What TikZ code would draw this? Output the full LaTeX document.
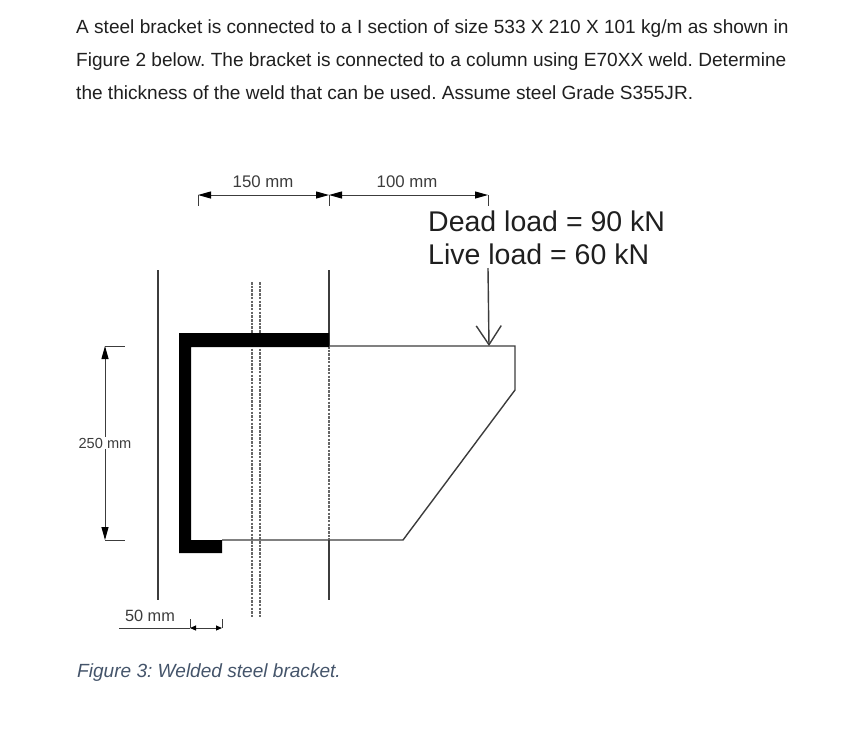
\documentclass[tikz,border=0pt]{standalone}
\usepackage{fontspec}
\setmainfont{Liberation Sans}
\usetikzlibrary{arrows.meta,positioning}
\definecolor{captionblue}{HTML}{44546A}
\definecolor{inkgray}{HTML}{3C3C3C}
\frenchspacing

\begin{document}
\begin{tikzpicture}[
    x=1pt,y=-1pt,
    bodytext/.style={
        anchor=base west,
        inner sep=0pt,
        text=black!88,
        font=\fontsize{19.07}{21}\selectfont},
    dimtext/.style={
        inner sep=0pt,
        text=inkgray,
        font=\fontsize{16.8}{18}\selectfont},
    loadtext/.style={
        anchor=base west,
        inner sep=0pt,
        text=black!88,
        font=\fontsize{28.5}{30}\selectfont},
    myline/.style={draw=inkgray,line width=1.4pt},
    dimline/.style={draw=inkgray,line width=1pt},
    mydim/.style={dimline,{Stealth[length=13pt,width=7pt,inset=0pt,black]}-{Stealth[length=13pt,width=7pt,inset=0pt,black]}},
    smalldim/.style={dimline,{Stealth[length=6pt,width=5pt,inset=0pt,black]}-{Stealth[length=6pt,width=5pt,inset=0pt,black]}},
    hidden/.style={draw=black!60,line width=1.1pt,dash pattern=on 2.5pt off 1.2pt},
    myload/.style={myline,-{Straight Barb[length=19pt,width=25pt,line width=1.4pt]}}
    ]
    \useasboundingbox (0,0) rectangle (864,737);

    % statement
    \node[bodytext] (line1) at (76,33) {A steel bracket is connected to a I section of size 533 X 210 X 101 kg/m as shown in};
    \node[bodytext] (line2) at (76,66) {Figure 2 below. The bracket is connected to a column using E70XX weld. Determine};
    \node[bodytext] (line3) at (76,99) {the thickness of the weld that can be used. Assume steel Grade S355JR.};

    % points of the plate and flange lines
    \coordinate (p1) at (329,346);
    \coordinate (p2) at (515,346);
    \coordinate (p3) at (515,390);
    \coordinate (p4) at (403,540);
    \coordinate (p5) at (222,540);
    \coordinate (f1) at (158,270);
    \coordinate (f2) at (158,600);
    \coordinate (g1) at (329,270);
    \coordinate (g2) at (329,600);
    \coordinate (g3) at (329,540);
    \coordinate (h1) at (252,282);
    \coordinate (h2) at (252,617);
    \coordinate (h3) at (260,282);
    \coordinate (h4) at (260,617);

    \draw[myline] (p1) -- (p2) -- (p3) -- (p4) -- (p5);
    \foreach \i/\j in {f1/f2,g1/p1,g3/g2}
        \draw[myline] (\i) -- (\j);
    \foreach \i/\j in {h1/h2,h3/h4,p1/g3}
        \draw[hidden] (\i) -- (\j);

    % weld
    \fill[black] (179,333) -- (329,333) -- (329,347) -- (191,347) -- (191,540)
        -- (222,540) -- (222,553) -- (179,553) -- cycle;

    % dimensions on top
    \coordinate (t1) at (198,195);
    \coordinate (t2) at (329,195);
    \coordinate (t3) at (488,195);
    \coordinate (t1b) at (198,206);
    \coordinate (t2b) at (329,206);
    \coordinate (t3b) at (488,206);
    \draw[mydim] (t1) -- (t2);
    \draw[mydim] (t2) -- (t3);
    \foreach \i/\j in {t1/t1b,t2/t2b,t3/t3b}
        \draw[dimline] (\i) -- (\j);
    \node[dimtext] (d150) at (263,182) {150 mm};
    \node[dimtext] (d100) at (407,182) {100 mm};

    % dimension on the left
    \coordinate (l1) at (105,346);
    \coordinate (l2) at (105,540);
    \coordinate (l1b) at (125,346);
    \coordinate (l2b) at (125,540);
    \draw[mydim] (l1) -- (l2);
    \foreach \i/\j in {l1/l1b,l2/l2b}
        \draw[dimline] (\i) -- (\j);
    \node[dimtext,font=\fontsize{14.6}{16}\selectfont,fill=white,inner ysep=1pt] (d250) at (105,443) {250 mm};

    % dimension at the bottom
    \coordinate (b0) at (119,628);
    \coordinate (b1) at (190,628);
    \coordinate (b2) at (222,628);
    \coordinate (b1t) at (190,619);
    \coordinate (b2t) at (222,619);
    \draw[smalldim] (b1) -- (b2);
    \foreach \i/\j in {b0/b1,b1/b1t,b2/b2t}
        \draw[dimline] (\i) -- (\j);
    \node[dimtext,font=\fontsize{16.3}{18}\selectfont] (d50) at (150,616) {50 mm};

    % load
    \node[loadtext] (dead) at (428,231) {Dead load = 90 kN};
    \node[loadtext] (live) at (428,264) {Live load = 60 kN};
    \coordinate (a1) at (488,268);
    \coordinate (a2) at (489,346);
    \draw[myload] (a1) -- (a2);

    \node[bodytext,text=captionblue,font=\fontsize{19.07}{21}\selectfont\itshape] (caption) at (77,677) {Figure 3: Welded steel bracket.};
    \end{tikzpicture}
\end{document}
